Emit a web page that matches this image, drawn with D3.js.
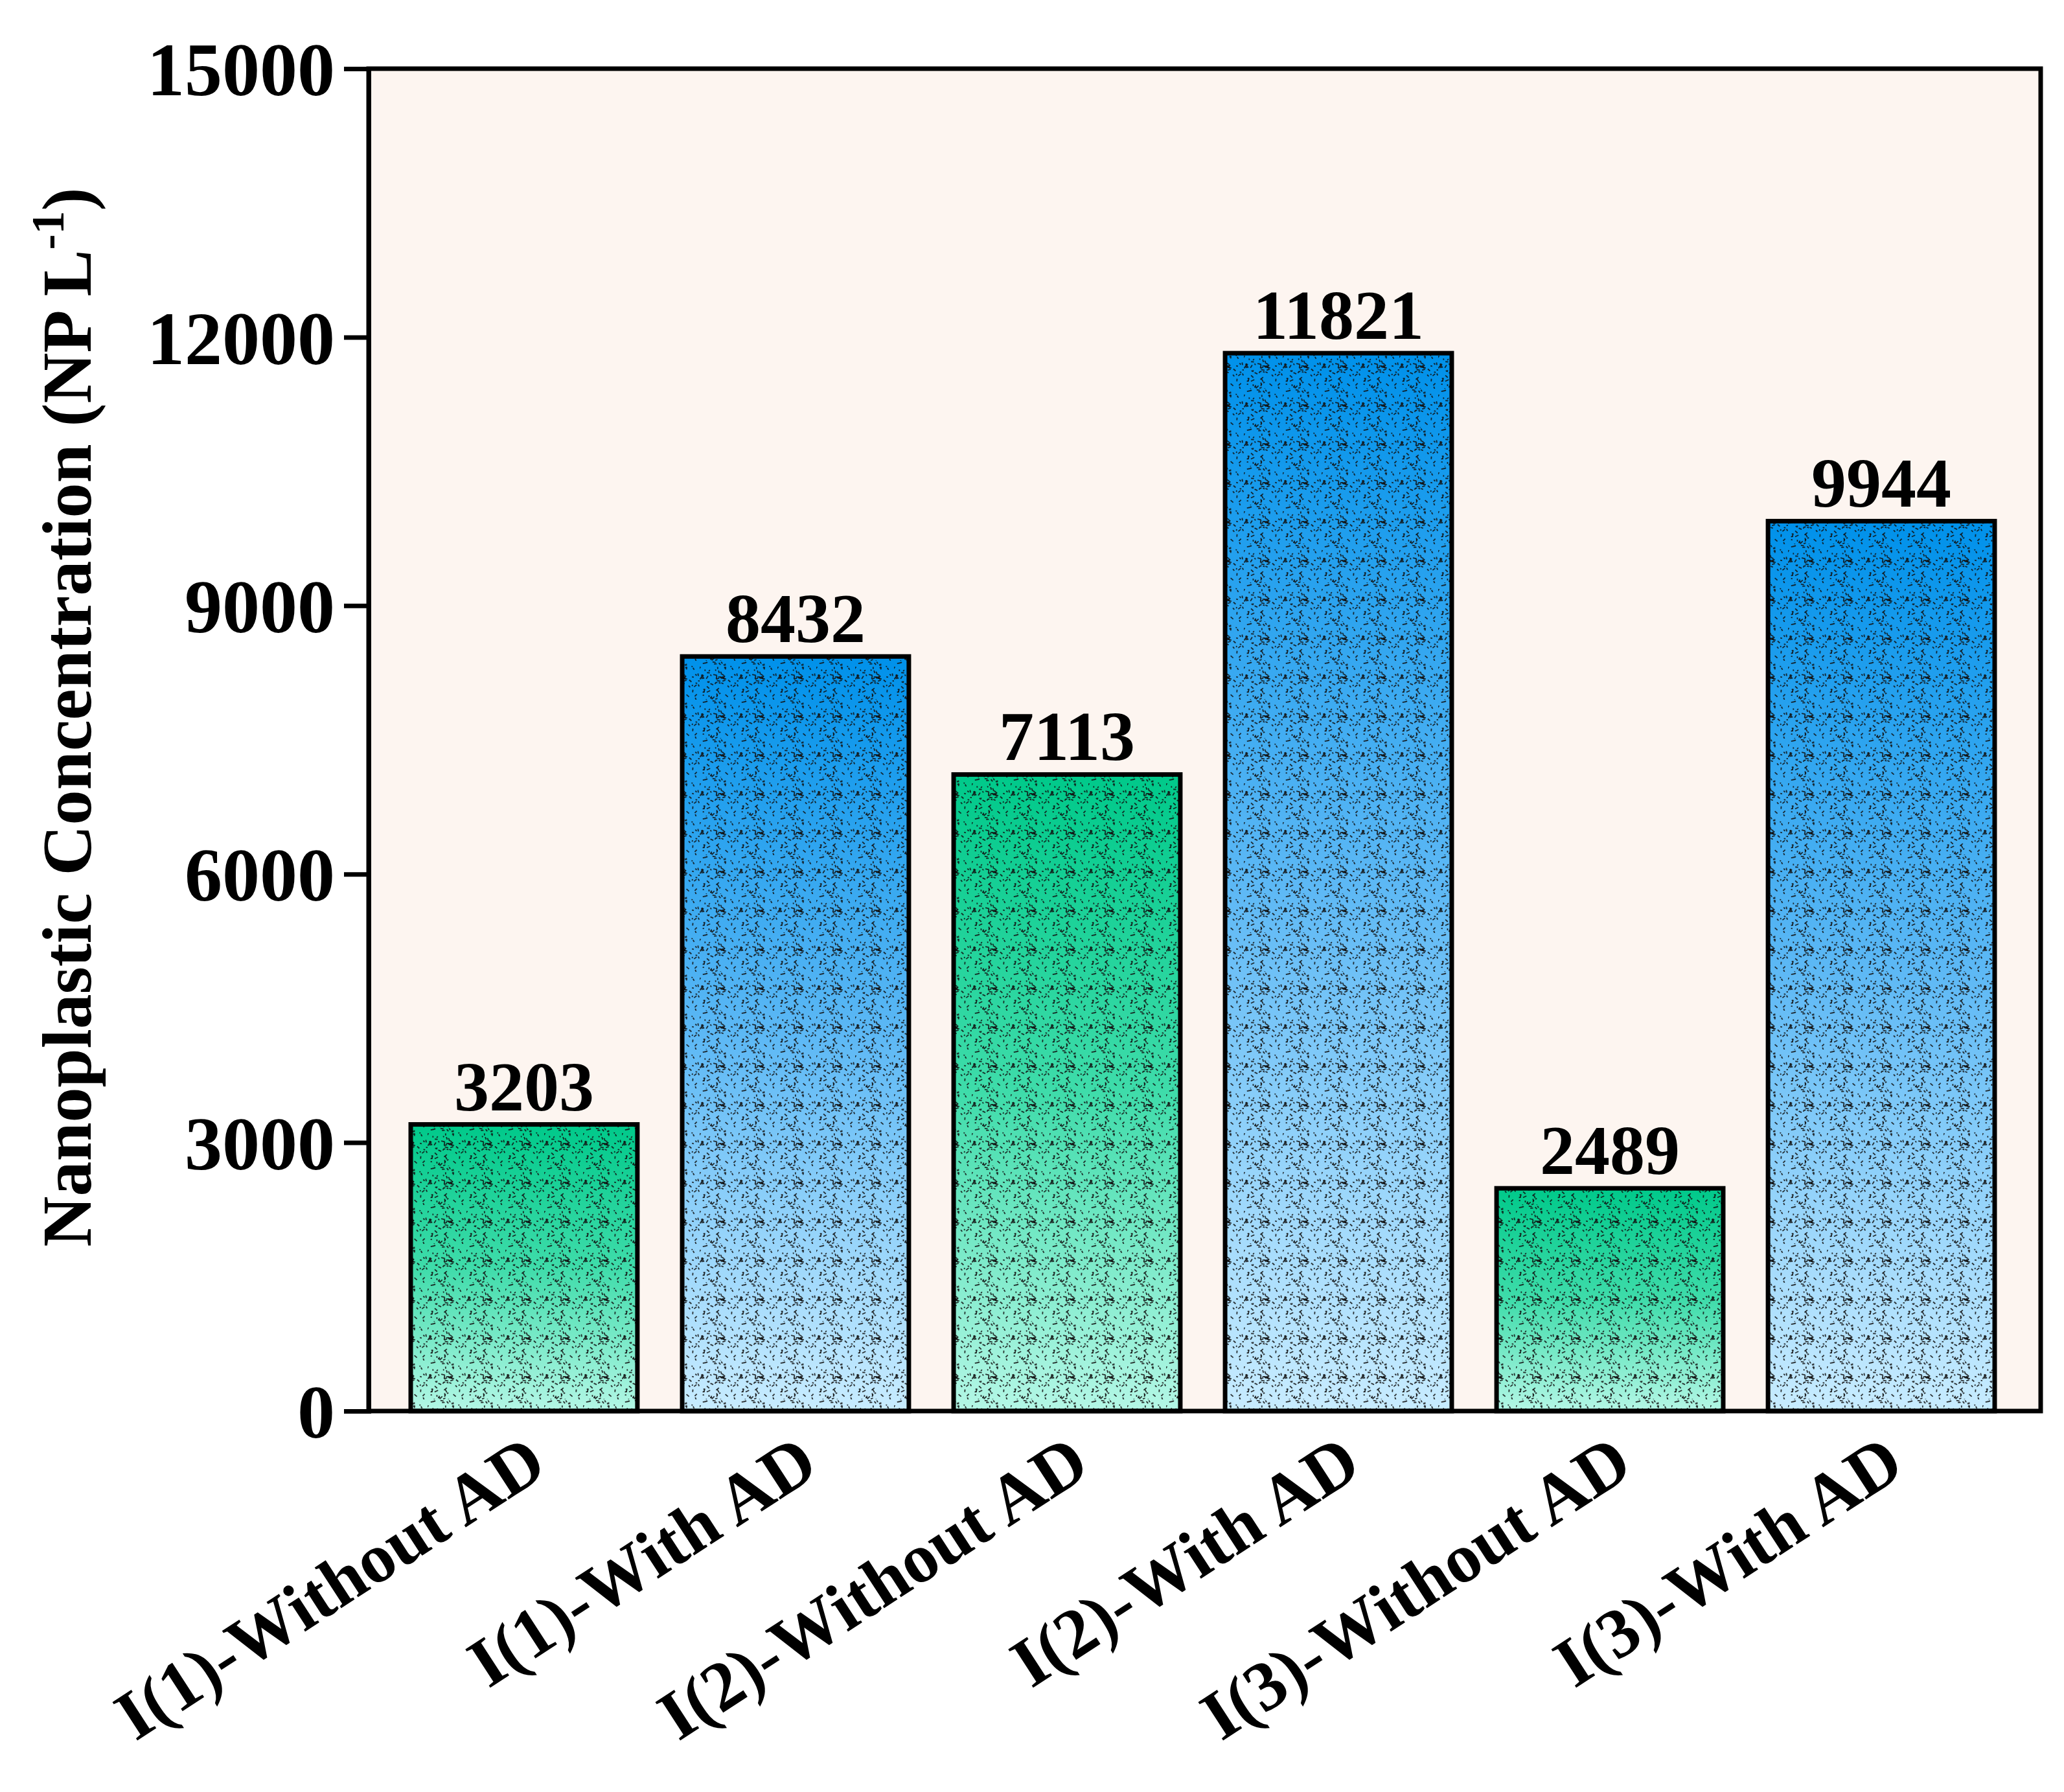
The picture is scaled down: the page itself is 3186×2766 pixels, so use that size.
<!DOCTYPE html>
<html><head><meta charset="utf-8">
<script src="https://cdn.jsdelivr.net/npm/d3@7"></script>
<style>body{margin:0;background:#fff}</style></head>
<body><svg id="c" width="3186" height="2766"></svg>
<script>
const categories = ["I(1)-Without AD","I(1)-With AD","I(2)-Without AD","I(2)-With AD","I(3)-Without AD","I(3)-With AD"];
const values = [3203, 8432, 7113, 11821, 2489, 9944];
const groups = ["green","blue","green","blue","green","blue"];
const yTicks = [0,3000,6000,9000,12000,15000];

const svg = d3.select("#c");
const L=569, R=3150, T=106, B=2178;
const font="'Times New Roman','Liberation Serif',serif";
const defs = svg.append("defs");
const grads = {green:["#00c98a","#3fdcaa","#b4f7e6"], blue:["#0091ea","#5cb8f5","#c8ecff"]};
Object.entries(grads).forEach(([k,c])=>{
  const g=defs.append("linearGradient").attr("id","g-"+k).attr("x1",0).attr("x2",0).attr("y1",0).attr("y2",1);
  g.append("stop").attr("offset","0").attr("stop-color",c[0]);
  g.append("stop").attr("offset","0.5").attr("stop-color",c[1]);
  g.append("stop").attr("offset","1").attr("stop-color",c[2]);
});
const pat=defs.append("pattern").attr("id","speck").attr("patternUnits","userSpaceOnUse").attr("width",60).attr("height",60);
let s=7;
function rnd(){s=(s*9301+49297)%233280;return s/233280;}
for(let i=0;i<80;i++){
  const x=rnd()*60,y=rnd()*60,a=rnd()*Math.PI,l=2+rnd()*4;
  pat.append("line").attr("x1",x).attr("y1",y).attr("x2",x+Math.cos(a)*l).attr("y2",y+Math.sin(a)*l)
    .attr("stroke","#111").attr("stroke-width",1.8).attr("stroke-opacity",0.85);
}

const x=d3.scaleBand().domain(categories).range([634,3079]).paddingInner(0.165).paddingOuter(0);
const y=d3.scaleLinear().domain([0,15000]).range([B,T]);

svg.append("rect").attr("x",L).attr("y",T).attr("width",R-L).attr("height",B-T).attr("fill","#fdf5f0");

const bars=svg.append("g");
categories.forEach((c,i)=>{
  const bx=x(c), by=y(values[i]), bw=x.bandwidth(), bh=B-y(values[i]);
  bars.append("rect").attr("x",bx).attr("y",by).attr("width",bw).attr("height",bh).attr("fill",`url(#g-${groups[i]})`);
  bars.append("rect").attr("x",bx).attr("y",by).attr("width",bw).attr("height",bh).attr("fill","url(#speck)")
    .attr("stroke","#000").attr("stroke-width",7);
  svg.append("text").attr("x",bx+bw/2).attr("y",by-22).attr("text-anchor","middle")
    .attr("font-family",font).attr("font-weight","bold").attr("font-size",108).text(values[i]);
});

svg.append("rect").attr("x",L).attr("y",T).attr("width",R-L).attr("height",B-T).attr("fill","none").attr("stroke","#000").attr("stroke-width",7);

const ya=svg.append("g").attr("transform",`translate(${L},0)`)
  .call(d3.axisLeft(y).tickValues(yTicks).tickSize(38).tickPadding(14).tickFormat(d3.format("d")));
ya.select(".domain").attr("stroke-width",7);
ya.selectAll(".tick line").attr("stroke-width",7);
ya.selectAll("text").attr("font-family",font).attr("font-weight","bold").attr("font-size",116).attr("dy","0.35em");

const xa=svg.append("g").attr("transform",`translate(0,${B})`).call(d3.axisBottom(x).tickSize(0).tickPadding(0));
xa.select(".domain").remove();
xa.selectAll("text").attr("font-family",font).attr("font-weight","bold").attr("font-size",108)
  .attr("text-anchor","end").attr("dy",0).attr("y",0)
  .attr("transform","translate(40,95) rotate(-33)");

svg.append("text").attr("transform","translate(140,1107) rotate(-90)").attr("text-anchor","middle")
  .attr("font-family",font).attr("font-weight","bold").attr("font-size",108)
  .html('Nanoplastic Concentration (NP L<tspan dy="-42" font-size="72">-1</tspan><tspan dy="42">)</tspan>');
</script></body></html>
